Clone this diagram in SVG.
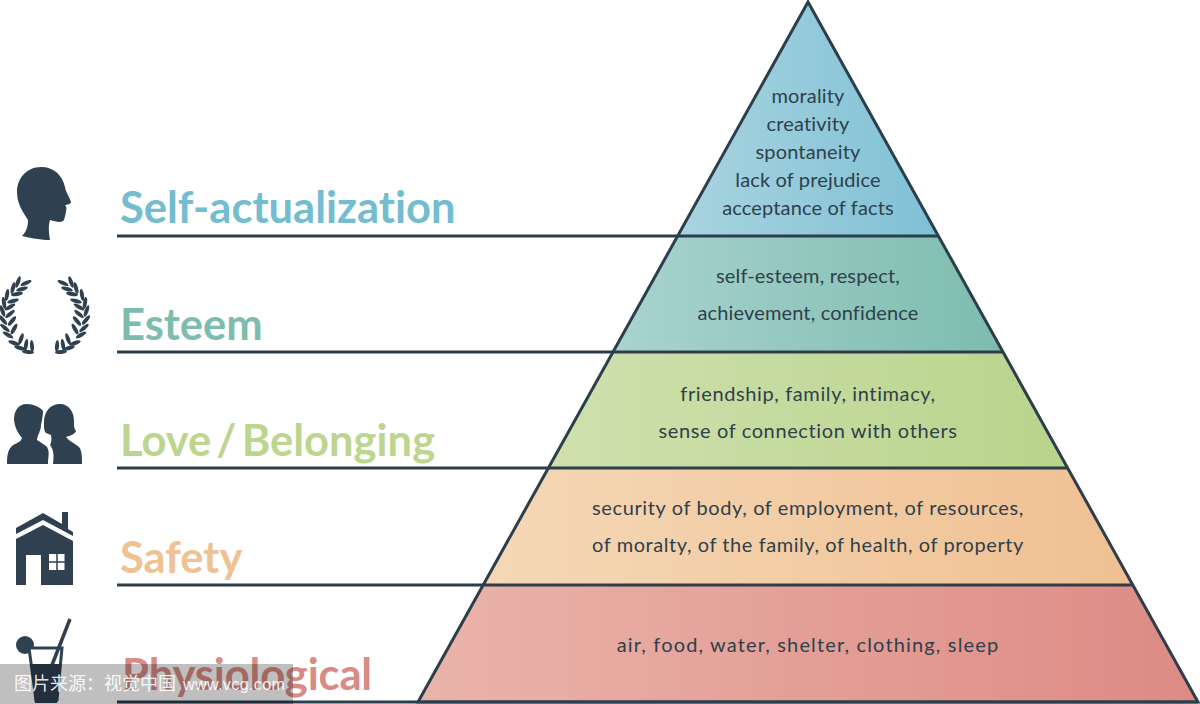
<svg xmlns="http://www.w3.org/2000/svg" width="1200" height="704" viewBox="0 0 1200 704">
<style>
.lab{font-family:Lato,"Liberation Sans",sans-serif;font-weight:700;font-size:43.500px;font-variant-ligatures:none}
.t{font-family:Lato,"Liberation Sans",sans-serif;font-size:20px;fill:#2f3f4b;text-anchor:middle;letter-spacing:.15px}
.t2{letter-spacing:.62px}
.t3{letter-spacing:1.150px}
.ln{stroke:#2c3e4c;stroke-width:3;fill:none}
.ic{fill:#2f4150}
</style>
<defs>
<linearGradient id="g1" x1="0" x2="1" y1="0" y2="0"><stop offset="0" stop-color="#a9d4df"/><stop offset="1" stop-color="#7fc0d6"/></linearGradient>
<linearGradient id="g2" x1="0" x2="1" y1="0" y2="0"><stop offset="0" stop-color="#a9d3cf"/><stop offset="1" stop-color="#7dbcae"/></linearGradient>
<linearGradient id="g3" x1="0" x2="1" y1="0" y2="0"><stop offset="0" stop-color="#cfe0ae"/><stop offset="1" stop-color="#b9d48c"/></linearGradient>
<linearGradient id="g4" x1="0" x2="1" y1="0" y2="0"><stop offset="0" stop-color="#f5d8b6"/><stop offset="1" stop-color="#f0c092"/></linearGradient>
<linearGradient id="g5" x1="0" x2="1" y1="0" y2="0"><stop offset="0" stop-color="#eab4aa"/><stop offset="1" stop-color="#dd8a84"/></linearGradient>
<ellipse id="lf" cx="0" cy="0" rx="6" ry="2" class="ic"/>
<g id="branch">
<use href="#lf" transform="translate(26,283) rotate(-25)"/>
<use href="#lf" transform="translate(18,282) rotate(-70)"/>
<use href="#lf" transform="translate(22,289) rotate(-15)"/>
<use href="#lf" transform="translate(13,288) rotate(-75)"/>
<use href="#lf" transform="translate(17,294) rotate(-10)"/>
<use href="#lf" transform="translate(7,295) rotate(-80)"/>
<use href="#lf" transform="translate(13,301) rotate(-15)"/>
<use href="#lf" transform="translate(4,303) rotate(80)"/>
<use href="#lf" transform="translate(10,307) rotate(-30)"/>
<use href="#lf" transform="translate(2.500,311) rotate(70)"/>
<use href="#lf" transform="translate(10,314) rotate(-40)"/>
<use href="#lf" transform="translate(3,320) rotate(50)"/>
<use href="#lf" transform="translate(12,321) rotate(-50)"/>
<use href="#lf" transform="translate(5,328) rotate(40)"/>
<use href="#lf" transform="translate(14,329) rotate(-60)"/>
<use href="#lf" transform="translate(8,335) rotate(30)"/>
<use href="#lf" transform="translate(21,339) rotate(-70)"/>
<use href="#lf" transform="translate(14,343) rotate(20)"/>
<use href="#lf" transform="translate(26,345) rotate(-80)"/>
<use href="#lf" transform="translate(20,348) rotate(15)"/>
<use href="#lf" transform="translate(32,346) rotate(85)"/>
<use href="#lf" transform="translate(28,352) rotate(5)"/>
</g>
</defs>
<rect width="1200" height="704" fill="#fff"/>

<g id="level-self-actualization">
<polygon points="808,2 938,236 678,236" fill="url(#g1)"/>
<text class="t"><tspan x="808" y="103">morality</tspan><tspan x="808" y="131">creativity</tspan><tspan x="808" y="159">spontaneity</tspan><tspan x="808" y="187">lack of prejudice</tspan><tspan x="808" y="215">acceptance of facts</tspan></text>
</g>
<g id="level-esteem">
<polygon points="678,236 938,236 1003,352 613,352" fill="url(#g2)"/>
<text class="t"><tspan x="808" y="283">self-esteem, respect,</tspan><tspan x="808" y="320">achievement, confidence</tspan></text>
</g>
<g id="level-love">
<polygon points="613,352 1003,352 1068,468 548,468" fill="url(#g3)"/>
<text class="t t2"><tspan x="808" y="401">friendship, family, intimacy,</tspan><tspan x="808" y="438">sense of connection with others</tspan></text>
</g>
<g id="level-safety">
<polygon points="548,468 1068,468 1133,585 483,585" fill="url(#g4)"/>
<text class="t t2"><tspan x="808" y="515">security of body, of employment, of resources,</tspan><tspan x="808" y="552" letter-spacing=".57">of moralty, of the family, of health, of property</tspan></text>
</g>
<g id="level-physiological">
<polygon points="483,585 1133,585 1198,702 418,702" fill="url(#g5)"/>
<text class="t t3" x="808" y="652">air, food, water, shelter, clothing, sleep</text>
</g>

<g id="connectors">
<polygon class="ln" points="808,2 1198,702 418,702"/>
<path class="ln" d="M117 236H938M117 352H1003M117 468H1068M117 585H1133M117 702H1198"/>
</g>

<g id="label-self"><text class="lab" x="120" y="223" fill="#74bccf">Self-actualization</text></g>
<g id="label-esteem"><text class="lab" x="120" y="340" fill="#7dbcae">Esteem</text></g>
<g id="label-love"><text class="lab" x="120" y="456" fill="#bcd58f" word-spacing="-5.500">Love / Belonging</text></g>
<g id="label-safety"><text class="lab" x="120" y="573" fill="#efc294">Safety</text></g>
<g id="label-physiological"><text class="lab" x="122" y="690" fill="#d98b86" letter-spacing="-.15">Physiological</text></g>

<g id="icon-head"><path class="ic" d="M41 167C27 167 17 178 17 192C17 204 23 212 28 220C28 227 26 232 22 236C30 238 42 240 50 240C49 233 48 227 50 220C56 222 62 223 64 220C65 216 66 213 66 211C67 208 66 206 65 205C67 205 71 204 71 202C70 198 66 193 65 187C62 175 54 167 41 167Z"/></g>

<g id="icon-wreath">
<use href="#branch"/>
<use href="#branch" transform="translate(89,0) scale(-1,1)"/>
</g>

<g id="icon-couple">
<path class="ic" d="M27 404C18 404 14 411 14 420C15 428 18 433 22 438C21 441 19 442 15 444C9 447 7 452 7 464H48C48 457 50 452 47 447C44 444 40 442 37 440C37 436 41 431 41 425C42 420 43 415 43 411C40 407 33 404 27 404Z"/>
<path class="ic" d="M60 404C50 404 44 412 44 422C44 428 44 431 46 433L51 435C52 441 51 443 50 445C54 450 54 456 53 464H82C82 457 82 451 79 447C76 444 70 442 66 437C70 436 75 434 76 431C74 429 74 426 74 421C74 412 69 404 60 404Z"/>
</g>

<g id="icon-house">
<path class="ic" d="M16 528L43 513L62 524V512H68V529L73 532V536L43 520L16 534Z"/>
<path class="ic" d="M16 539L43 525L73 541V585H41V555H26V585H16Z"/>
<rect x="49" y="554" width="15.500" height="16" fill="#fff"/>
<path d="M57 554V570M49 562H65" stroke="#2f4150" stroke-width="1.500"/>
</g>

<g id="icon-drink">
<circle cx="25" cy="645" r="9" class="ic"/>
<path d="M29 648H62L57 700H36Z" fill="#fff" stroke="#2f4150" stroke-width="3"/>
<path class="ic" d="M31 664H60L57 703H35Z"/>
<path d="M70 619L52 665" stroke="#2f4150" stroke-width="3.500"/>
</g>

<g id="watermark">
<rect x="0" y="664" width="293" height="40" fill="#000" fill-opacity=".25"/>
<text x="14" y="690" font-family="'Noto Sans CJK SC',sans-serif" font-size="18" fill="#fff" fill-opacity=".9">图片来源：视觉中国<tspan x="183" font-size="16" font-family="'Liberation Sans',sans-serif" letter-spacing=".4">www.vcg.com</tspan></text>
</g>
</svg>
